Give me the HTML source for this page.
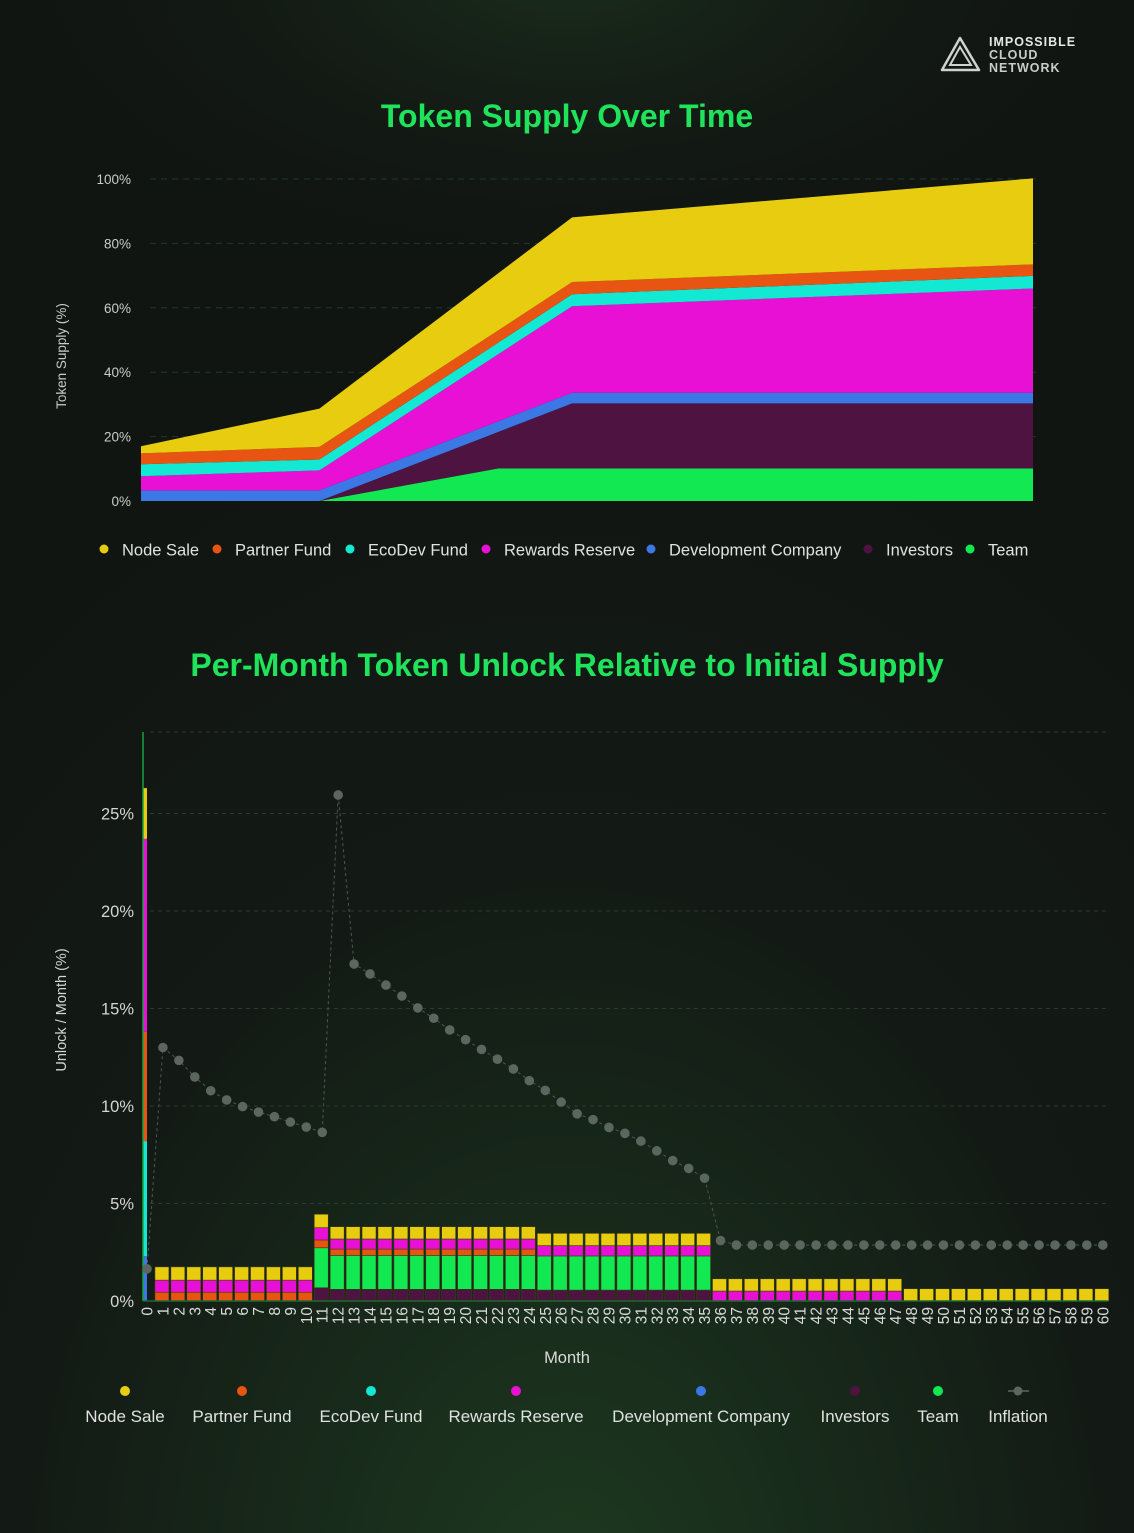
<!DOCTYPE html>
<html><head><meta charset="utf-8"><style>
html,body{margin:0;padding:0;background:#121714;}
svg{display:block;font-family:"Liberation Sans",sans-serif;}
</style></head><body>
<svg id="root" width="1134" height="1533" viewBox="0 0 1134 1533" xmlns="http://www.w3.org/2000/svg">
<defs>
<radialGradient id="bgg" cx="0.5" cy="1.05" r="0.8">
<stop offset="0" stop-color="#1d3a20"/><stop offset="0.6" stop-color="#131a15"/><stop offset="1" stop-color="#111512"/>
</radialGradient>
<radialGradient id="bgt" cx="0.5" cy="-0.05" r="0.5">
<stop offset="0" stop-color="#1a2e1c"/><stop offset="1" stop-color="#121714" stop-opacity="0"/>
</radialGradient>
</defs>
<rect width="1134" height="1533" fill="url(#bgg)"/>
<rect width="1134" height="600" fill="url(#bgt)"/>
<g>
<path d="M960 38 L979 70 L942 70 Z" fill="none" stroke="#cfd3d0" stroke-width="2.5" stroke-linejoin="round"/>
<path d="M960 47 L971 65 L950 65 Z" fill="none" stroke="#cfd3d0" stroke-width="2"/>
<text x="989" y="46" font-size="12.5" font-weight="bold" fill="#e4e7e5" letter-spacing="1">IMPOSSIBLE</text>
<text x="989" y="59" font-size="12.5" font-weight="bold" fill="#c9ccca" letter-spacing="1">CLOUD</text>
<text x="989" y="72" font-size="12.5" font-weight="bold" fill="#c9ccca" letter-spacing="1">NETWORK</text>
</g>
<text x="567" y="127" text-anchor="middle" font-size="32" font-weight="bold" fill="#1fe35a">Token Supply Over Time</text>
<text x="567" y="676" text-anchor="middle" font-size="32" font-weight="bold" fill="#1fe35a">Per-Month Token Unlock Relative to Initial Supply</text>
<g id="topchart"></g>
<g id="botchart"></g>
</svg>
<script>
// ===== Top chart data =====
const topMonths = [0, 12, 24, 29, 60];
const topTicks = [0, 20, 40, 60, 80, 100];
const topTickLabels = ["0%", "20%", "40%", "60%", "80%", "100%"];
const topTeam = [0, 0, 10.1, 10.1, 10.1];
const topInvestors = [0, 0, 11.3, 20.2, 20.2];
const topDevCo = [3.3, 3.3, 3.3, 3.3, 3.3];
const topRewards = [4.4, 6.2, 20.8, 26.9, 32.4];
const topEcoDev = [3.7, 3.4, 3.6, 3.7, 3.9];
const topPartner = [3.4, 3.9, 3.8, 3.8, 3.6];
const topNode = [2.2, 11.9, 17.7, 20.1, 26.7];

// ===== Bottom chart data =====
const botTicks = [0, 5, 10, 15, 20, 25];
const botTickLabels = ["0%", "5%", "10%", "15%", "20%", "25%"];
const botDevCo = [2.3,0,0,0,0,0,0,0,0,0,0, 0,0,0,0,0,0,0,0,0,0,0,0,0,0, 0,0,0,0,0,0,0,0,0,0,0, 0,0,0,0,0,0,0,0,0,0,0,0, 0,0,0,0,0,0,0,0,0,0,0,0,0];
const botInvestors = [0,0,0,0,0,0,0,0,0,0,0, 0.68,0.6,0.6,0.6,0.6,0.6,0.6,0.6,0.6,0.6,0.6,0.6,0.6,0.6, 0.56,0.56,0.56,0.56,0.56,0.56,0.56,0.56,0.56,0.56,0.56, 0,0,0,0,0,0,0,0,0,0,0,0, 0,0,0,0,0,0,0,0,0,0,0,0,0];
const botTeam = [0,0,0,0,0,0,0,0,0,0,0, 2.05,1.74,1.74,1.74,1.74,1.74,1.74,1.74,1.74,1.74,1.74,1.74,1.74,1.74, 1.75,1.75,1.75,1.75,1.75,1.75,1.75,1.75,1.75,1.75,1.75, 0,0,0,0,0,0,0,0,0,0,0,0, 0,0,0,0,0,0,0,0,0,0,0,0,0];
const botEcoDev = [5.9,0,0,0,0,0,0,0,0,0,0, 0,0,0,0,0,0,0,0,0,0,0,0,0,0, 0,0,0,0,0,0,0,0,0,0,0, 0,0,0,0,0,0,0,0,0,0,0,0, 0,0,0,0,0,0,0,0,0,0,0,0,0];
const botPartner = [5.6,0.45,0.45,0.45,0.45,0.45,0.45,0.45,0.45,0.45,0.45, 0.4,0.32,0.32,0.32,0.32,0.32,0.32,0.32,0.32,0.32,0.32,0.32,0.32,0.32, 0,0,0,0,0,0,0,0,0,0,0, 0,0,0,0,0,0,0,0,0,0,0,0, 0,0,0,0,0,0,0,0,0,0,0,0,0];
const botRewards = [9.9,0.62,0.62,0.62,0.62,0.62,0.62,0.62,0.62,0.62,0.62, 0.63,0.52,0.52,0.52,0.52,0.52,0.52,0.52,0.52,0.52,0.52,0.52,0.52,0.52, 0.53,0.53,0.53,0.53,0.53,0.53,0.53,0.53,0.53,0.53,0.53, 0.51,0.51,0.51,0.51,0.51,0.51,0.51,0.51,0.51,0.51,0.51,0.51, 0,0,0,0,0,0,0,0,0,0,0,0,0];
const botNode = [2.6,0.68,0.68,0.68,0.68,0.68,0.68,0.68,0.68,0.68,0.68, 0.69,0.63,0.63,0.63,0.63,0.63,0.63,0.63,0.63,0.63,0.63,0.63,0.63,0.63, 0.63,0.63,0.63,0.63,0.63,0.63,0.63,0.63,0.63,0.63,0.63, 0.63,0.63,0.63,0.63,0.63,0.63,0.63,0.63,0.63,0.63,0.63,0.63, 0.63,0.63,0.63,0.63,0.63,0.63,0.63,0.63,0.63,0.63,0.63,0.63,0.63];
const botInflation = [1.65,13.0,12.34,11.49,10.78,10.31,9.97,9.69,9.45,9.18,8.92, 8.65,25.95,17.28,16.77,16.2,15.64,15.03,14.5,13.9,13.4,12.9,12.4,11.9,11.3, 10.8,10.2,9.6,9.3,8.9,8.6,8.2,7.7,7.2,6.8,6.3, 3.1,2.87,2.87,2.87,2.87,2.87,2.87,2.87,2.87,2.87,2.87,2.87, 2.87,2.87,2.87,2.87,2.87,2.87,2.87,2.87,2.87,2.87,2.87,2.87,2.87];
const legendNames = ["Node Sale","Partner Fund","EcoDev Fund","Rewards Reserve","Development Company","Investors","Team"];

const NS = "http://www.w3.org/2000/svg";
const C = {node:"#e8cc10",partner:"#e85512",eco:"#12e8d2",rew:"#e910d6",dev:"#3b78e6",inv:"#4e1340",team:"#12e852",infl:"#5b665f"};
function mk(parent, tag, attrs, txt){const e=document.createElementNS(NS,tag);for(const k in attrs)e.setAttribute(k,attrs[k]);if(txt!==undefined)e.textContent=txt;parent.appendChild(e);return e;}

// ----- top chart -----
const topG = document.getElementById("topchart");
const tx = m => 141 + (m/60)*(1033-141);
const ty = v => 501 - v*(501-179)/100;
topTicks.forEach((t,i)=>{
  if(t>0){const g=mk(topG,"line",{x1:150,x2:1040,y1:ty(t),y2:ty(t),stroke:"#1f3a25","stroke-dasharray":"6 5","stroke-width":1});
  
  }
  const l=mk(topG,"text",{x:131,y:ty(t)+5,"text-anchor":"end","font-size":13.5,fill:"#c9ccca"},topTickLabels[i]);
  
  
});
const yt=mk(topG,"text",{x:0,y:0,transform:"translate(66,356) rotate(-90)","text-anchor":"middle","font-size":13.5,fill:"#c9ccca"},"Token Supply (%)");


const topSeries=[["team",topTeam,C.team],["investors",topInvestors,C.inv],["devco",topDevCo,C.dev],["rewards",topRewards,C.rew],["ecodev",topEcoDev,C.eco],["partner",topPartner,C.partner],["node",topNode,C.node]];
let base = topMonths.map(()=>0);
topSeries.forEach(([nm,vals,col])=>{
  const upper = vals.map((v,i)=>base[i]+v);
  let d="M"+topMonths.map((m,i)=>tx(m)+","+ty(upper[i])).join(" L");
  for(let i=topMonths.length-1;i>=0;i--) d+=" L"+tx(topMonths[i])+","+ty(base[i]);
  const p=mk(topG,"path",{d:d+" Z",fill:col});
  
  
  base=upper;
});
const tcols=[C.node,C.partner,C.eco,C.rew,C.dev,C.inv,C.team];
const tlx=[104,217,350,486,651,868,970];
legendNames.forEach((n,i)=>{
  const g=mk(topG,"g",{});
  
  
  mk(g,"circle",{cx:tlx[i],cy:549,r:4.5,fill:tcols[i]});
  mk(g,"text",{x:tlx[i]+18,y:555.5,"font-size":16.5,fill:"#dfe2e0"},n);
});

// ----- bottom chart -----
const botG=document.getElementById("botchart");
const bx = n => 147 + n*15.93;
const by = v => 1301 - v*19.5;
mk(botG,"line",{x1:150,x2:1108,y1:732,y2:732,stroke:"#2c3a30","stroke-dasharray":"4 4"});
botTicks.forEach((t,i)=>{
  if(t>0){const g=mk(botG,"line",{x1:150,x2:1108,y1:by(t),y2:by(t),stroke:"#2c3a30","stroke-dasharray":"4 4"});
  
  }
  const l=mk(botG,"text",{x:134,y:by(t)+6,"text-anchor":"end","font-size":16.5,fill:"#d3d6d4"},botTickLabels[i]);
  
  
});
const bs=[["devco",botDevCo,C.dev],["investors",botInvestors,C.inv],["team",botTeam,C.team],["ecodev",botEcoDev,C.eco],["partner",botPartner,C.partner],["rewards",botRewards,C.rew],["node",botNode,C.node]];
for(let n=0;n<botNode.length;n++){
  let acc=0;
  const w = n===0?4:14;
  const x0 = n===0?bx(n)-4:bx(n)-8;
  bs.forEach(([nm,vals,col])=>{
    const v=vals[n]; if(v<=0) return;
    const r=mk(botG,"rect",{x:x0,y:by(acc+v),width:w,height:v*19.5,fill:col,stroke:n===0?"none":"#3b3a10","stroke-width":0.6});
    
    
    acc+=v;
  });
  const lab=mk(botG,"text",{x:0,y:0,transform:"translate("+(bx(n)+5.5)+",1307) rotate(-90)","text-anchor":"end","font-size":15.5,fill:"#d9dcda"},String(n));
  
  
}
const axl=mk(botG,"line",{x1:143,x2:143,y1:732,y2:1301,stroke:"#18a23e","stroke-width":1.5});


const xal=mk(botG,"line",{x1:143,x2:1108,y1:1301,y2:1301,stroke:"#1a6a30","stroke-width":1.5});


const ipath=mk(botG,"path",{d:"M"+botInflation.map((v,n)=>bx(n)+","+by(v)).join(" L"),fill:"none",stroke:"#4d5850","stroke-width":1,"stroke-dasharray":"3 3"});


botInflation.forEach((v,n)=>{
  const c=mk(botG,"circle",{cx:bx(n),cy:by(v),r:4.8,fill:C.infl});
  
  
});
const yt2=mk(botG,"text",{x:0,y:0,transform:"translate(66,1010) rotate(-90)","text-anchor":"middle","font-size":14.5,fill:"#d3d6d4"},"Unlock / Month (%)");


const xt=mk(botG,"text",{x:567,y:1363,"text-anchor":"middle","font-size":16.5,fill:"#d9dcda"},"Month");


const blx=[125,242,371,516,701,855,938];
legendNames.forEach((n,i)=>{
  const g=mk(botG,"g",{});
  
  
  mk(g,"circle",{cx:blx[i],cy:1391,r:5,fill:tcols[i]});
  mk(g,"text",{x:blx[i],y:1422,"text-anchor":"middle","font-size":17,fill:"#dfe2e0"},n);
});
const gi=mk(botG,"g",{});


mk(gi,"line",{x1:1008,x2:1029,y1:1391,y2:1391,stroke:"#5b665f","stroke-width":1.5});
mk(gi,"circle",{cx:1018,cy:1391,r:4.5,fill:C.infl});
mk(gi,"text",{x:1018,y:1422,"text-anchor":"middle","font-size":17,fill:"#dfe2e0"},"Inflation");
</script>
</body></html>
